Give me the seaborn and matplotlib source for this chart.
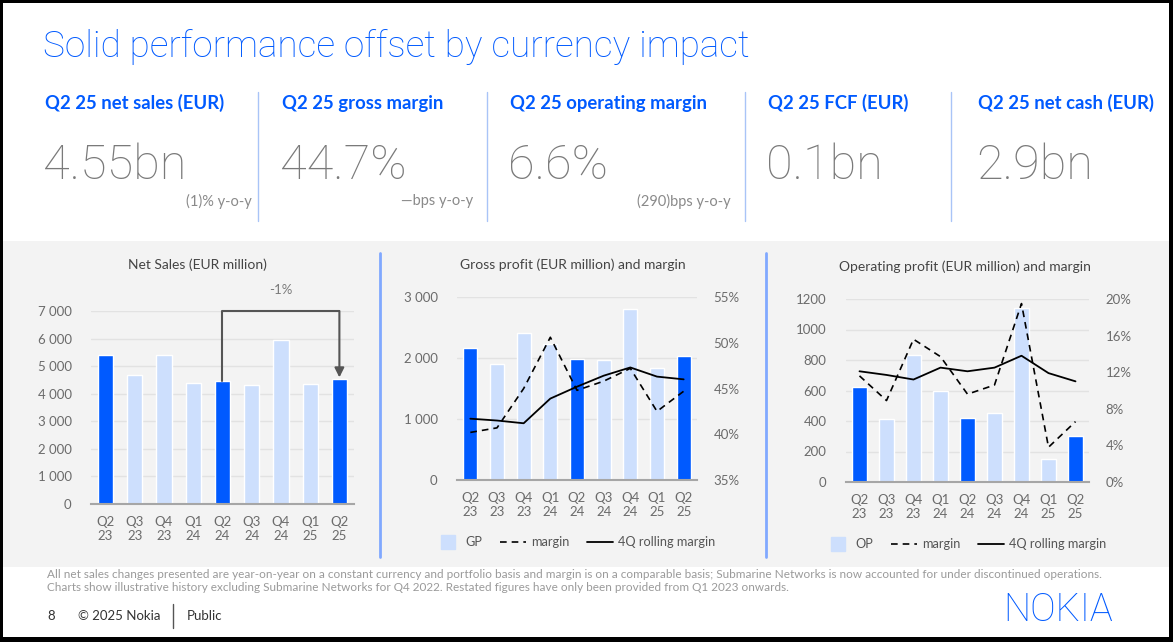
# Nokia Q2 25 slide: KPI header plus three quarterly charts
import numpy as np
import matplotlib.pyplot as plt
import seaborn as sns
from matplotlib.patches import Rectangle
from matplotlib.lines import Line2D

# DATA
quarters = ['Q2\n23', 'Q3\n23', 'Q4\n23', 'Q1\n24', 'Q2\n24', 'Q3\n24', 'Q4\n24', 'Q1\n25', 'Q2\n25']
net_sales = [5400, 4680, 5400, 4400, 4460, 4320, 5950, 4340, 4550]
gross_profit = [2170, 1900, 2410, 2230, 1990, 1960, 2800, 1840, 2030]
gp_margin = [40.2, 40.7, 45.0, 50.6, 44.8, 45.8, 47.2, 42.5, 44.7]
gp_rolling = [41.7, 41.5, 41.2, 43.9, 45.2, 46.4, 47.3, 46.3, 46.0]
op_profit = [620, 413, 833, 595, 422, 455, 1143, 151, 300]
op_margin = [11.6, 8.9, 15.6, 13.7, 9.6, 10.6, 19.5, 3.8, 6.6]
op_rolling = [12.1, 11.7, 11.2, 12.5, 12.1, 12.5, 13.8, 11.9, 11.0]
highlight = ['Q2\n23', 'Q2\n24', 'Q2\n25']

kpi_labels = ['Q2 25 net sales (EUR)', 'Q2 25 gross margin', 'Q2 25 operating margin',
              'Q2 25 FCF (EUR)', 'Q2 25 net cash (EUR)']
kpi_values = ['4.55bn', '44.7%', '6.6%', '0.1bn', '2.9bn']
kpi_changes = ['(1)% y-o-y', '\u2014bps y-o-y', '(290)bps y-o-y', '', '']

footnote = ('All net sales changes presented are year-on-year on a constant currency and portfolio basis '
            'and margin is on a comparable basis; Submarine Networks is now accounted for under '
            'discontinued operations.\nCharts show illustrative history excluding Submarine Networks '
            'for Q4 2022. Restated figures have only been provided from Q1 2023 onwards.')

BLUE = '#005aff'
LIGHT = '#cddffd'
GREY_TXT = '#6b6b6b'
LIGHT_FONT = ['Roboto', 'DejaVu Sans']

sns.set_style('white')
plt.rcParams['font.family'] = ['Lato', 'DejaVu Sans']

W, H = 1173, 642
fig = plt.figure(figsize=(W / 100, H / 100), dpi=100)
fig.patch.set_facecolor('black')


def fx(x):
    return x / W


def fy(y):
    return 1 - y / H


def box(l, t, r, b):
    return [l / W, 1 - b / H, (r - l) / W, (b - t) / H]


def rect(l, t, r, b, color, z):
    fig.add_artist(Rectangle((fx(l), fy(b)), (r - l) / W, (b - t) / H,
                             transform=fig.transFigure, color=color, zorder=z, lw=0))


def vline(x, t, b, color, lw):
    fig.add_artist(Line2D([fx(x), fx(x)], [fy(t), fy(b)], transform=fig.transFigure,
                          color=color, lw=lw, zorder=-5))


# backgrounds
rect(3, 3, 1169, 637, 'white', -10)
rect(3, 241, 1169, 567, '#f3f3f3', -9)

# header
fig.text(fx(43), fy(57), 'Solid performance offset by currency impact', color=BLUE,
         fontsize=26.6, fontweight='light', family=LIGHT_FONT, va='baseline')
head_x = [45, 282, 510, 768, 978]
change_x = [252, 473, 731]
for i, lab in enumerate(kpi_labels):
    fig.text(fx(head_x[i]), fy(103), lab, color=BLUE, fontsize=13.3, fontweight='bold', va='center')
    fig.text(fx(head_x[i] - 2), fy(179), kpi_values[i], color='#7a7a7a', fontsize=35,
             fontweight='light', family=LIGHT_FONT, va='baseline')
    if kpi_changes[i]:
        fig.text(fx(change_x[i]), fy(201), kpi_changes[i], color='#8a8a8a', fontsize=10.5,
                 ha='right', va='center')
for x in [258, 487, 745, 951]:
    vline(x, 92, 221, '#a9c4f7', 1)

# chart separators
vline(380, 253, 557, '#80a8ff', 2)
vline(766, 253, 557, '#80a8ff', 2)

bar_colors = [BLUE if q in highlight else LIGHT for q in quarters]


def style_axes(ax, ylim, ticks, labels, pad):
    ax.set_facecolor('none')
    ax.set_ylim(*ylim)
    ax.set_yticks(ticks)
    ax.set_yticklabels(labels)
    ax.set_xlim(-0.5, 8.5)
    ax.grid(axis='y', color='#e2e2e2', lw=1)
    ax.set_axisbelow(True)
    for s in ['top', 'right', 'left']:
        ax.spines[s].set_visible(False)
    ax.spines['bottom'].set_color('#a6a6a6')
    ax.spines['bottom'].set_linewidth(1.5)
    ax.tick_params(axis='both', length=0, labelsize=9.5, labelcolor=GREY_TXT)
    ax.tick_params(axis='x', pad=9)
    ax.tick_params(axis='y', pad=pad)
    ax.set_xlabel('')
    ax.set_ylabel('')
    for t in ax.get_xticklabels():
        t.set_linespacing(1.15)


def bars(ax, values):
    sns.barplot(x=quarters, y=values, hue=quarters, palette=bar_colors, legend=False,
                width=0.52, saturation=1, ax=ax)


# ---- Net sales
ax1 = fig.add_axes(box(91, 311, 354, 504))
bars(ax1, net_sales)
style_axes(ax1, (0, 7000), range(0, 7001, 1000),
           ['0' if v == 0 else f'{v // 1000} 000' for v in range(0, 7001, 1000)], 14)
fig.text(fx(197), fy(265), 'Net Sales (EUR million)', color='#444444', fontsize=10,
         ha='center', va='center')
ax1.plot([4, 4, 8], [net_sales[4], 7000, 7000], color='#555555', lw=1.5, clip_on=False)
ax1.annotate('', xy=(8, net_sales[8] + 40), xytext=(8, 7000),
             arrowprops=dict(arrowstyle='-|>', color='#555555', lw=1.5, mutation_scale=14,
                             shrinkA=0, shrinkB=0), annotation_clip=False)
ax1.text(6, 7750, '-1%', color='#7a7a7a', fontsize=9.5, ha='center', va='center', clip_on=False)


def margin_chart(rect_px, values, margin, rolling, ylim, yticks, ylabels, rlim, rticks, legend_lab,
                 title, title_xy, legend_xy):
    ax = fig.add_axes(box(*rect_px))
    bars(ax, values)
    style_axes(ax, ylim, yticks, ylabels, 14)
    ax2 = ax.twinx()
    x = np.arange(len(quarters))
    sns.lineplot(x=x, y=margin, ax=ax2, color='black', lw=1.2, linestyle=(0, (4, 3)))
    sns.lineplot(x=x, y=rolling, ax=ax2, color='black', lw=1.3)
    ax2.set_ylim(*rlim)
    ax2.set_yticks(rticks)
    ax2.set_yticklabels([f'{v}%' for v in rticks])
    ax2.set_xlim(-0.5, 8.5)
    ax2.set_facecolor('none')
    for s in ax2.spines.values():
        s.set_visible(False)
    ax2.tick_params(axis='y', length=0, labelsize=9.5, labelcolor=GREY_TXT, pad=12)
    ax2.set_ylabel('')
    fig.text(fx(title_xy[0]), fy(title_xy[1]), title, color='#444444', fontsize=10,
             ha='center', va='center')
    handles = [Line2D([], [], marker='s', ls='none', markersize=9.5, color=LIGHT),
               Line2D([], [], color='black', lw=1.2, ls=(0, (4, 3))),
               Line2D([], [], color='black', lw=1.3)]
    ax.legend(handles, [legend_lab, 'margin', '4Q rolling margin'], ncol=3, frameon=False,
              loc='center left', bbox_to_anchor=(fx(legend_xy[0]), fy(legend_xy[1])),
              bbox_transform=fig.transFigure, fontsize=9.2, labelcolor='#555555',
              handlelength=2.0, handletextpad=0.4, columnspacing=1.4, borderpad=0, borderaxespad=0)
    return ax


margin_chart((457, 297, 697, 480), gross_profit, gp_margin, gp_rolling, (0, 3000),
             range(0, 3001, 1000), ['0', '1 000', '2 000', '3 000'], (35, 55), range(35, 56, 5),
             'GP', 'Gross profit (EUR million) and margin', (573, 265), (435, 542))
margin_chart((846, 299, 1089, 482), op_profit, op_margin, op_rolling, (0, 1200),
             range(0, 1201, 200), [str(v) for v in range(0, 1201, 200)], (0, 20), range(0, 21, 4),
             'OP', 'Operating profit (EUR million) and margin', (965, 267), (825, 544))

# footer
fig.text(fx(47), fy(581), footnote, color='#9a9a9a', fontsize=8.5, va='center', linespacing=1.15)
fig.text(fx(47), fy(616), '8', color='#333333', fontsize=9.5, va='center')
fig.text(fx(78), fy(616), '\u00a9 2025 Nokia', color='#333333', fontsize=9.5, va='center')
vline(173, 604, 628, '#555555', 1)
fig.text(fx(187), fy(616), 'Public', color='#333333', fontsize=9.5, va='center')
fig.text(fx(1003), fy(621), 'NOKIA', color=BLUE, fontsize=27.5, family=LIGHT_FONT,
         fontweight='light', va='baseline', ha='left')

fig.savefig('out.png', dpi=100, facecolor=fig.get_facecolor())
